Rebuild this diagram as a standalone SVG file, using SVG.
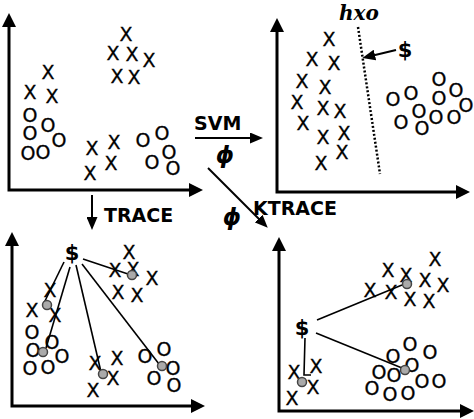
<svg xmlns="http://www.w3.org/2000/svg" width="474" height="419" viewBox="0 0 474 419">
<style>
.ax{stroke:#000;stroke-width:3;fill:none}
.cn{stroke:#000;stroke-width:2;fill:none}
.ln{stroke:#000;stroke-width:1.6;fill:none}
.m{font-family:"DejaVu Sans",sans-serif;font-size:19px;text-anchor:middle;fill:#000;stroke:#000;stroke-width:0.3}
.d{font-family:"DejaVu Sans",sans-serif;font-size:21px;font-weight:bold;text-anchor:middle;fill:#000}
.lb{font-family:"DejaVu Sans",sans-serif;font-size:19px;font-weight:bold;fill:#000}
.phi{font-family:"DejaVu Sans",sans-serif;font-size:23px;font-weight:bold;font-style:italic;text-anchor:middle;fill:#000}
.dot{fill:#aaa;stroke:#444;stroke-width:1.5}
</style>
<defs>
<marker id="axh" viewBox="0 0 14 14" refX="2" refY="7" markerWidth="14" markerHeight="14" markerUnits="userSpaceOnUse" orient="auto-start-reverse"><path d="M0,0L14,7L0,14z" fill="#000"/></marker>
<marker id="cnh" viewBox="0 0 13 11" refX="2" refY="5.5" markerWidth="13" markerHeight="11" markerUnits="userSpaceOnUse" orient="auto"><path d="M0,0L13,5.5L0,11z" fill="#000"/></marker>
</defs>

<g id="panel-input">
<path class="ax" d="M9,25V190H191" marker-start="url(#axh)" marker-end="url(#axh)"/>
<g class="m">
<text x="126" y="41">X</text><text x="113" y="60">X</text><text x="132" y="61">X</text><text x="149" y="67">X</text>
<text x="117" y="83">X</text><text x="134" y="84">X</text>
<text x="48" y="79">X</text><text x="30" y="99">X</text><text x="52" y="103">X</text>
<text x="30" y="122">O</text><text x="48" y="132">O</text><text x="30" y="140">O</text><text x="59" y="147">O</text>
<text x="28" y="160">O</text><text x="43" y="159">O</text>
<text x="92" y="155">X</text><text x="114" y="149">X</text><text x="111" y="170">X</text><text x="90" y="180">X</text>
<text x="143" y="147">O</text><text x="162" y="140">O</text><text x="169" y="159">O</text><text x="152" y="169">O</text><text x="173" y="175">O</text>
</g>
</g>

<g id="panel-svm">
<path class="ax" d="M277,30V192H458" marker-start="url(#axh)" marker-end="url(#axh)"/>
<text x="339" y="20" font-family="DejaVu Serif,serif" font-size="20" font-weight="bold" font-style="italic">hxo</text>
<line x1="358" y1="27" x2="380" y2="174" stroke="#000" stroke-width="2.5" stroke-dasharray="2,2"/>
<line class="cn" x1="396" y1="50" x2="373" y2="55.5" marker-end="url(#cnh)"/>
<text class="d" x="405" y="57">$</text>
<g class="m">
<text x="329" y="46">X</text><text x="312" y="66">X</text><text x="334" y="70">X</text><text x="302" y="88">X</text>
<text x="325" y="94">X</text><text x="297" y="109">X</text><text x="323" y="115">X</text><text x="340" y="118">X</text>
<text x="303" y="130">X</text><text x="323" y="144">X</text><text x="344" y="140">X</text><text x="342" y="159">X</text><text x="321" y="170">X</text>
<text x="393" y="106">O</text><text x="411" y="100">O</text><text x="439" y="86">O</text><text x="456" y="97">O</text>
<text x="439" y="105">O</text><text x="466" y="112">O</text><text x="419" y="118">O</text><text x="401" y="129">O</text>
<text x="436" y="124">O</text><text x="454" y="124">O</text><text x="422" y="135">O</text>
</g>
</g>

<g id="panel-trace">
<path class="ax" d="M12,244V406H193" marker-start="url(#axh)" marker-end="url(#axh)"/>
<g class="m">
<text x="129" y="259">X</text><text x="115" y="277">X</text><text x="133" y="276">X</text><text x="152" y="285">X</text>
<text x="118" y="299">X</text><text x="137" y="302">X</text>
<text x="50" y="297">X</text><text x="32" y="317">X</text><text x="55" y="322">X</text>
<text x="32" y="339">O</text><text x="52" y="349">O</text><text x="33" y="357">O</text><text x="62" y="363">O</text>
<text x="30" y="375">O</text><text x="48" y="374">O</text>
<text x="95" y="370">X</text><text x="117" y="365">X</text><text x="113" y="385">X</text><text x="93" y="397">X</text>
<text x="145" y="363">O</text><text x="164" y="356">O</text><text x="173" y="375">O</text><text x="154" y="385">O</text><text x="174" y="392">O</text>
</g>
<g class="ln">
<line x1="83" y1="259" x2="131" y2="275"/>
<line x1="64" y1="262" x2="44" y2="303"/>
<line x1="70" y1="267" x2="46" y2="348"/>
<line x1="76" y1="265" x2="101" y2="372"/>
<line x1="82" y1="264" x2="159" y2="364"/>
</g>
<text class="d" x="72" y="260">$</text>
<g class="dot">
<circle cx="132" cy="275" r="4.5"/><circle cx="47" cy="305" r="4.5"/><circle cx="43" cy="352" r="4.5"/>
<circle cx="103" cy="374" r="4.5"/><circle cx="162" cy="366" r="4.5"/>
</g>
</g>

<g id="panel-ktrace">
<path class="ax" d="M279,249V411H462" marker-start="url(#axh)" marker-end="url(#axh)"/>
<g class="m">
<text x="435" y="266">X</text><text x="388" y="277">X</text><text x="406" y="282">X</text><text x="425" y="287">X</text>
<text x="443" y="292">X</text><text x="370" y="297">X</text><text x="391" y="299">X</text><text x="410" y="306">X</text><text x="429" y="308">X</text>
<text x="294" y="379">X</text><text x="316" y="373">X</text><text x="313" y="394">X</text><text x="292" y="405">X</text>
<text x="410" y="351">O</text><text x="430" y="359">O</text><text x="393" y="363">O</text><text x="412" y="372">O</text>
<text x="379" y="379">O</text><text x="394" y="382">O</text><text x="372" y="395">O</text><text x="390" y="401">O</text>
<text x="408" y="400">O</text><text x="422" y="388">O</text><text x="439" y="388">O</text>
</g>
<g class="ln">
<line x1="317" y1="320" x2="402" y2="285"/>
<line x1="316" y1="333" x2="402" y2="368"/>
<polyline points="305,338 304,375 311,375"/>
</g>
<text class="d" x="302" y="335">$</text>
<g class="dot">
<circle cx="407" cy="284" r="4.5"/><circle cx="405" cy="370" r="4.5"/><circle cx="302" cy="382" r="4.5"/>
</g>
</g>

<g id="connectors">
<line class="cn" x1="195" y1="138" x2="252" y2="138" marker-end="url(#cnh)"/>
<text class="lb" x="194" y="130">SVM</text>
<text class="phi" x="225" y="163">ϕ</text>
<line class="cn" x1="92" y1="195" x2="92" y2="219" marker-end="url(#cnh)"/>
<text class="lb" x="104" y="222">TRACE</text>
<line class="cn" x1="208" y1="168" x2="260" y2="220" marker-end="url(#cnh)"/>
<text class="phi" x="232" y="225">ϕ</text>
<text class="lb" x="253" y="215">KTRACE</text>
</g>
</svg>
